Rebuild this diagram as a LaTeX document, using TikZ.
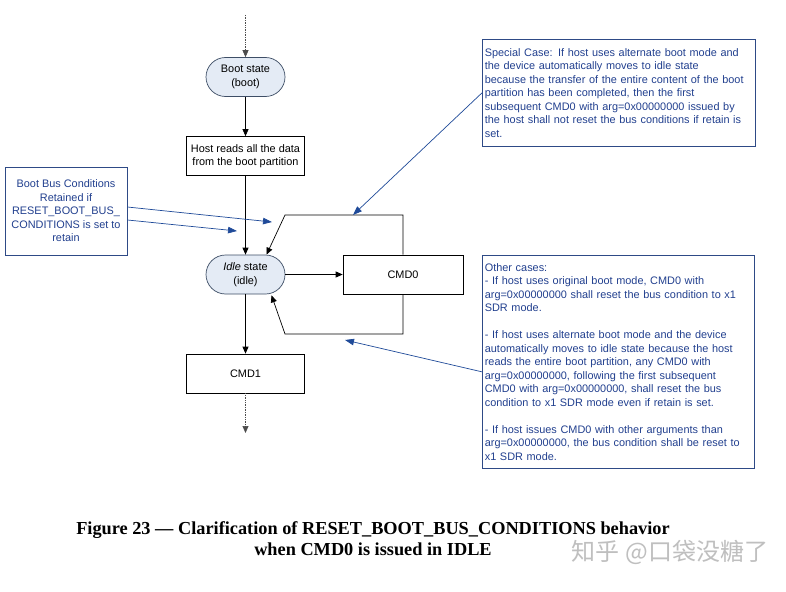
\documentclass[tikz,border=0pt]{standalone}
\usepackage{fontspec}
\setmainfont{Liberation Sans}
\newfontfamily\capfont{Liberation Serif}
\newfontfamily\cjkfont{Noto Sans CJK SC}
\usetikzlibrary{arrows.meta,calc}
\definecolor{stfill}{HTML}{E4EBF5}
\definecolor{stdraw}{HTML}{3E4E66}
\definecolor{notetxt}{HTML}{22408F}
\definecolor{notedraw}{HTML}{2E4A86}
\definecolor{notearrow}{HTML}{1F4A99}
\tikzset{
  base/.style={font=\fontsize{10.9}{13.5}\selectfont, align=center, inner sep=0pt},
  stadium/.style={base, draw=stdraw, fill=stfill, line width=0.7pt, minimum width=79pt, minimum height=39pt, rounded corners=19.5pt},
  procbox/.style={base, draw=black, line width=0.7pt, minimum width=118pt, minimum height=39pt},
  notebox/.style={base, draw=notedraw, text=notetxt, line width=0.7pt},
  flow/.style={draw=black, line width=0.7pt, -{Triangle[length=7pt,width=6pt]}},
  flowdot/.style={flow, densely dotted, draw=black!70},
  notearr/.style={draw=notearrow, line width=0.7pt, -{Triangle[length=9pt,width=6.5pt]}},
}
\begin{document}
\begin{tikzpicture}[x=1pt,y=-1pt]
\useasboundingbox (0,0) rectangle (786,591);
\fill[white] (0,0) rectangle (786,591);

% main flow nodes
\node[stadium] (boot) at (245.5,77) {Boot state\\(boot)};
\node[procbox] (host) at (245.5,156) {Host reads all the data\\from the boot partition};
\node[stadium] (idle) at (245.5,274.5) {\textit{Idle} state\\(idle)};
\node[procbox, minimum width=120pt] (cmd0) at (403,274.5) {CMD0};
\node[procbox] (cmd1) at (245.5,373.5) {CMD1};

\coordinate (top) at (245.5,15);
\coordinate (bottom) at (245.5,433);

\draw[flowdot] (top) -- (boot.north);
\draw[flow] (boot) -- (host);
\draw[flow] (host) -- (idle);
\draw[flow] (idle) -- (cmd0);
\draw[flow] (idle) -- (cmd1);
\draw[flowdot] (cmd1.south) -- (bottom);

% loops
\coordinate (lt) at (403,215);
\coordinate (ltl) at (285,215);
\coordinate (lb) at (403,334);
\coordinate (lbl) at (285,334);
\draw[flow] (cmd0.north) -- (lt) -- (ltl) -- ([xshift=21pt]idle.north);
\draw[flow] (cmd0.south) -- (lb) -- (lbl) -- ([xshift=26pt,yshift=-1pt]idle.south);

% annotation boxes
\node[notebox, minimum width=122pt, minimum height=88pt] (left) at (66,211)
  {Boot Bus Conditions\\Retained if\\RESET\_BOOT\_BUS\_\\CONDITIONS is set to\\retain};

\node[notebox, anchor=north west, minimum width=273pt, minimum height=107pt, text width=268pt, align=left] (special) at (482,39)
  {Special Case: If host uses alternate boot mode and\\
   the device automatically moves to idle state\\
   because the transfer of the entire content of the boot\\
   partition has been completed, then the first\\
   subsequent CMD0 with arg=0x00000000 issued by\\
   the host shall not reset the bus conditions if retain is\\
   set.};

\node[notebox, anchor=north west, minimum width=272pt, minimum height=213pt, text width=267pt, align=left] (other) at (482,255)
  {Other cases:\\
   - If host uses original boot mode, CMD0 with\\
   arg=0x00000000 shall reset the bus condition to x1\\
   SDR mode.\\[13.5pt]
   - If host uses alternate boot mode and the device\\
   automatically moves to idle state because the host\\
   reads the entire boot partition, any CMD0 with\\
   arg=0x00000000, following the first subsequent\\
   CMD0 with arg=0x00000000, shall reset the bus\\
   condition to x1 SDR mode even if retain is set.\\[13.5pt]
   - If host issues CMD0 with other arguments than\\
   arg=0x00000000, the bus condition shall be reset to\\
   x1 SDR mode.};

% annotation arrows
\coordinate (ta) at (353,215);
\coordinate (tb) at (345,340);
\coordinate (tc) at (272,222);
\coordinate (td) at (237,231);
\draw[notearr] (special.west) -- (ta);
\draw[notearr] ([yshift=-10pt]other.west) -- (tb);
\draw[notearr] ([yshift=4pt]left.east) -- (tc);
\draw[notearr] ([yshift=-9pt]left.east) -- (td);

% caption
\node[font=\capfont\bfseries\fontsize{18.3}{21}\selectfont, align=center, inner sep=0pt] (cap) at (373,539)
  {Figure 23 — Clarification of RESET\_BOOT\_BUS\_CONDITIONS behavior\\when CMD0 is issued in IDLE};
\node[font=\cjkfont\fontsize{24}{24}\selectfont, text=black!25, inner sep=0pt] (wm) at (670,552) {知乎 @口袋没糖了};
\end{tikzpicture}
\end{document}
